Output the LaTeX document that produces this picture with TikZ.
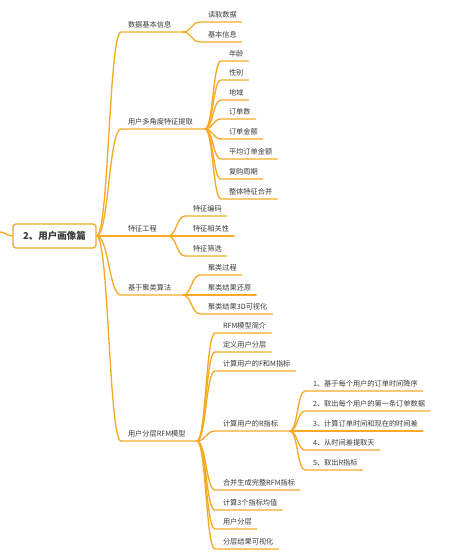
\documentclass[tikz,border=0pt]{standalone}
\usepackage{fontspec}
\newfontfamily\cjk{Noto Sans CJK SC}
\usetikzlibrary{calc}
\definecolor{br}{RGB}{246,170,40}
\definecolor{tx}{RGB}{58,58,58}
\begin{document}
\begin{tikzpicture}[x=1pt,y=-1pt,
  link/.style={draw=br,line width=1.35pt,line cap=round},
  topic/.style={anchor=south west,inner xsep=0pt,inner ysep=4.3pt,text depth=0pt,outer sep=0pt,
    font=\cjk\fontsize{7.2}{8}\selectfont,text=tx},
  rootbox/.style={draw=br,line width=1.35pt,rounded corners=3pt,fill=white,
    minimum width=83pt,minimum height=24pt,inner sep=0pt,
    font=\cjk\bfseries\fontsize{9.5}{11}\selectfont,text=tx}]
\useasboundingbox (0,0) rectangle (474,559);

% root
\node[rootbox] (root) at (54.5,236) {2、用户画像篇};
\coordinate (in) at (0,232);
\draw[link] (in) .. controls +(6,0) and +(-6,0) .. (root.west);

% level 1
\foreach \nm/\yy/\ex/\lab in {d/32/183/数据基本信息, u/129/205/用户多角度特征提取, f/236/168/特征工程, c/295/183/基于聚类算法, r/441/197/用户分层RFM模型}{
  \node[topic] (\nm) at (128,\yy) {\lab};
  \coordinate (\nm-e) at (\ex,\yy);
  \draw[link] (root.east) .. controls +(12,0) and +(-12,0) .. ([xshift=-7pt]\nm.south west) -- (\nm-e);
}

% children of 数据基本信息
\foreach \nm/\yy/\lab in {d1/22/读取数据, d2/42/基本信息}{
  \node[topic] (\nm) at (208,\yy) {\lab};
  \draw[link] (d-e) .. controls +(8.5,0) and +(-8.5,0) .. ([xshift=-8pt]\nm.south west) -- ([xshift=5pt]\nm.south east);
}

% children of 用户多角度特征提取
\foreach \nm/\yy/\lab in {u1/61/年龄, u2/80/性别, u3/100/地域, u4/119/订单数, u5/139/订单金额, u6/159/平均订单金额, u7/179/复购周期, u8/199/整体特征合并}{
  \node[topic] (\nm) at (229,\yy) {\lab};
  \draw[link] (u-e) .. controls +(8,0) and +(-8,0) .. ([xshift=-8pt]\nm.south west) -- ([xshift=5pt]\nm.south east);
}

% children of 特征工程
\foreach \nm/\yy/\lab in {f1/216/特征编码, f2/236/特征相关性, f3/256/特征筛选}{
  \node[topic] (\nm) at (193,\yy) {\lab};
  \draw[link] (f-e) .. controls +(8.5,0) and +(-8.5,0) .. ([xshift=-8pt]\nm.south west) -- ([xshift=5pt]\nm.south east);
}

% children of 基于聚类算法
\foreach \nm/\yy/\lab in {c1/275/聚类过程, c2/295/聚类结果还原, c3/314/聚类结果3D可视化}{
  \node[topic] (\nm) at (208,\yy) {\lab};
  \draw[link] (c-e) .. controls +(8.5,0) and +(-8.5,0) .. ([xshift=-8pt]\nm.south west) -- ([xshift=5pt]\nm.south east);
}

% children of 用户分层RFM模型
\foreach \nm/\yy/\lab in {r1/333/RFM模型简介, r2/352/定义用户分层, r3/371/计算用户的F和M指标, r5/490/合并生成完整RFM指标, r6/510/计算3个指标均值, r7/529/用户分层, r8/549/分层结果可视化}{
  \node[topic] (\nm) at (223,\yy) {\lab};
  \draw[link] (r-e) .. controls +(9,0) and +(-9,0) .. ([xshift=-8pt]\nm.south west) -- ([xshift=5pt]\nm.south east);
}
\node[topic] (r4) at (223,431) {计算用户的R指标};
\coordinate (r4-e) at (290,431);
\draw[link] (r-e) .. controls +(9,0) and +(-9,0) .. ([xshift=-8pt]r4.south west) -- (r4-e);

% children of 计算用户的R指标
\foreach \nm/\yy/\lab in {s1/391/1、基于每个用户的订单时间降序, s2/411/2、取出每个用户的第一条订单数据, s3/431/3、计算订单时间和现在的时间差, s4/450/4、从时间差提取天, s5/470/5、取出R指标}{
  \node[topic] (\nm) at (313,\yy) {\lab};
  \draw[link] (r4-e) .. controls +(7.5,0) and +(-7.5,0) .. ([xshift=-8pt]\nm.south west) -- ([xshift=5pt]\nm.south east);
}
\end{tikzpicture}
\end{document}
